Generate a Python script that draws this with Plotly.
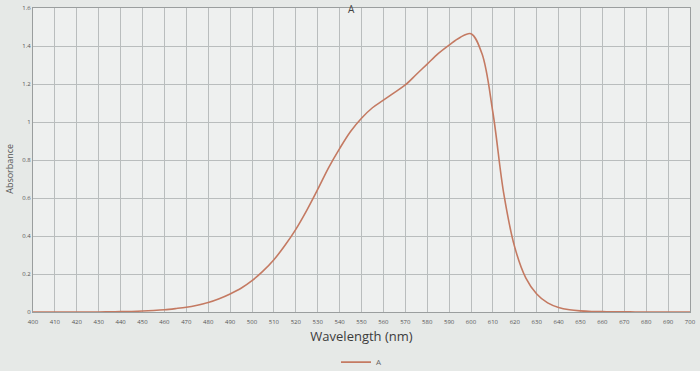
import plotly.graph_objects as go

wavelength = [400, 405, 410, 415, 420, 425, 430, 435, 440, 445, 450, 455, 460, 465, 470,
              475, 480, 485, 490, 495, 500, 505, 510, 515, 520, 525, 530, 535, 540, 545,
              550, 555, 560, 565, 570, 575, 580, 585, 590, 595, 600, 605, 610, 615, 620,
              625, 630, 635, 640, 645, 650, 655, 660, 665, 670, 675, 680, 685, 690, 695, 700]
absorbance = [0.0, 0.0, 0.0, 0.0, 0.0, 0.0, 0.0, 0.001, 0.002, 0.003, 0.005, 0.008, 0.012, 0.018, 0.025,
              0.036, 0.05, 0.07, 0.095, 0.125, 0.165, 0.215, 0.275, 0.35, 0.435, 0.535, 0.645, 0.76, 0.86, 0.95,
              1.02, 1.075, 1.115, 1.155, 1.195, 1.25, 1.305, 1.36, 1.405, 1.445, 1.465, 1.36, 1.05, 0.62, 0.34,
              0.18, 0.095, 0.048, 0.024, 0.012, 0.006, 0.003, 0.002, 0.001, 0.001, 0.0, 0.0, 0.0, 0.0, 0.0, 0.0]

x_ticks = list(range(400, 701, 10))
y_ticks = [0, 0.2, 0.4, 0.6, 0.8, 1, 1.2, 1.4, 1.6]
y_tick_text = ["0", "0.2", "0.4", "0.6", "0.8", "1", "1.2", "1.4", "1.6"]

fig = go.Figure()
fig.add_trace(go.Scatter(
    x=wavelength, y=absorbance, mode="lines", name="A",
    line=dict(color="#c47a62", width=1.6, shape="spline", smoothing=1.0),
))

grid = "#b9bdbd"
fig.update_layout(
    width=700, height=371,
    margin=dict(l=33, r=10, t=8, b=59, autoexpand=False),
    paper_bgcolor="#e6e9e7",
    plot_bgcolor="#eef0ef",
    font=dict(family="Open Sans, sans-serif", color="#555"),
    showlegend=True,
    legend=dict(orientation="h", x=0.5, xanchor="center", y=-0.165, yanchor="middle",
                font=dict(size=8, color="#666"), bgcolor="rgba(0,0,0,0)"),
    xaxis=dict(range=[400, 700], tickvals=x_ticks, ticktext=[str(t) for t in x_ticks],
               tickfont=dict(size=6, color="#555"), showgrid=True, gridcolor=grid, gridwidth=1,
               showline=True, linecolor="#9a9e9e", mirror=True, zeroline=False, ticks="",
               ticklabelstandoff=4, automargin=False,
               title=dict(text="Wavelength (nm)", font=dict(size=13, color="#3c3c3c"), standoff=6)),
    yaxis=dict(range=[0, 1.6], tickvals=y_ticks, ticktext=y_tick_text,
               tickfont=dict(size=6, color="#555"), showgrid=True, gridcolor=grid, gridwidth=1,
               showline=True, linecolor="#9a9e9e", mirror=True, zeroline=False, ticks="",
               automargin=False),
    annotations=[
        dict(text="A", xref="paper", yref="paper", x=0.485, y=1.0, xanchor="center",
             yanchor="top", yshift=8, showarrow=False, font=dict(size=10, color="#444")),
        dict(text="Absorbance", xref="paper", yref="paper", x=-0.037, y=0.47, xanchor="center",
             yanchor="middle", textangle=-90, showarrow=False, font=dict(size=9, color="#555")),
    ],
)

fig.write_html("out.html")
